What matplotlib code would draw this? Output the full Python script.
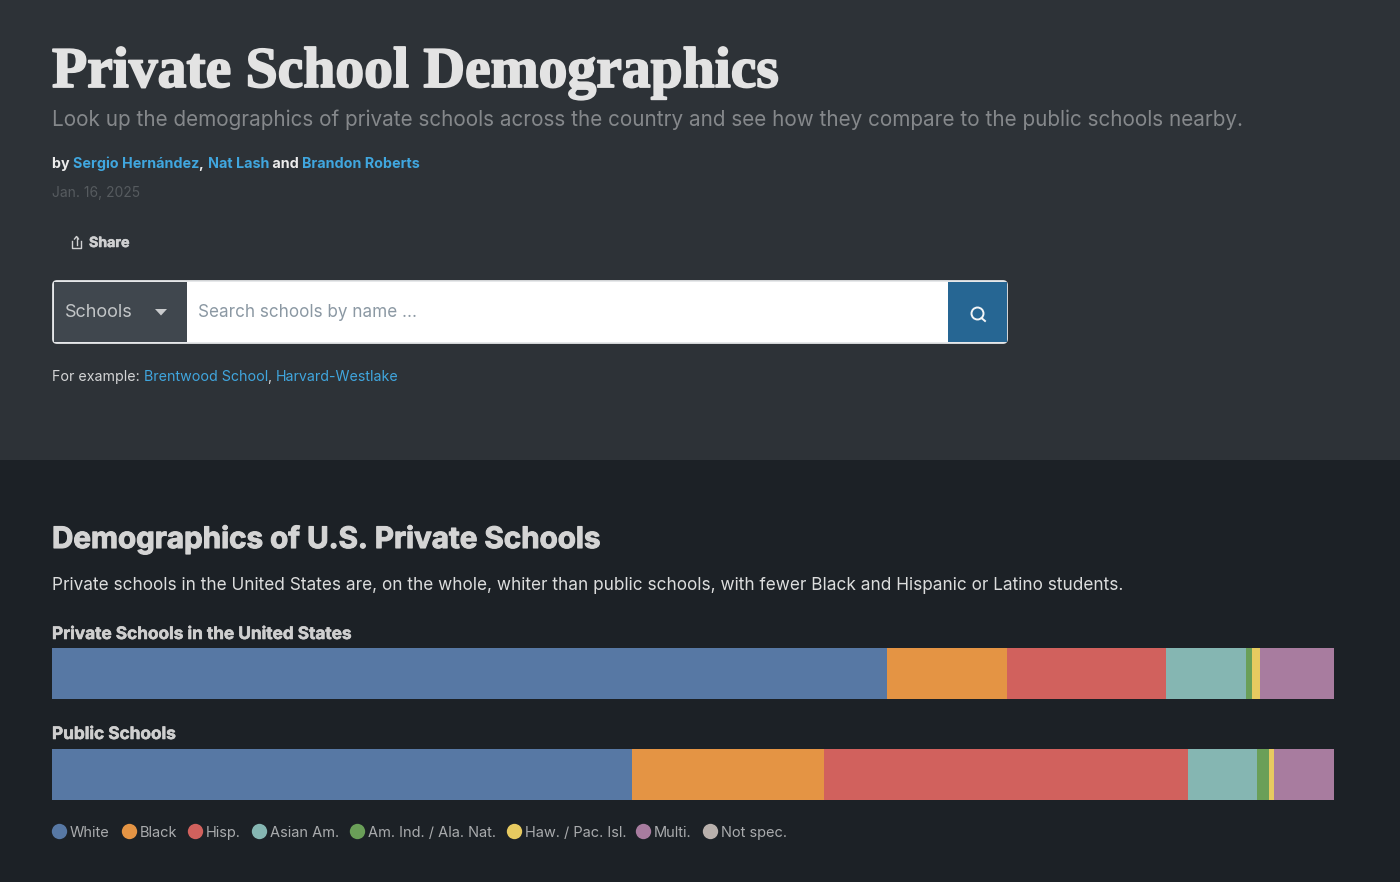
import matplotlib
matplotlib.use("Agg")
import matplotlib.pyplot as plt
import matplotlib.patheffects as pe
from matplotlib.font_manager import FontProperties
from matplotlib.patches import FancyBboxPatch, Rectangle, Circle, Polygon

# data
groups = ["Private Schools in the United States", "Public Schools"]
races = ["White", "Black", "Hisp.", "Asian Am.", "Am. Ind. / Ala. Nat.", "Haw. / Pac. Isl.", "Multi.", "Not spec."]
colors = ["#5778a4", "#e49444", "#d1615d", "#85b6b2", "#6a9f58", "#e7ca60", "#a87c9f", "#b8b0ac"]
private_vals = [65.1, 9.4, 12.4, 6.2, 0.5, 0.6, 5.8, 0.0]
public_vals = [45.25, 15.0, 28.35, 5.4, 0.9, 0.4, 4.7, 0.0]
legend_dot_x = [59, 129, 195, 259, 357, 514, 643, 710]

plt.rcParams["font.family"] = ["Inter", "DejaVu Sans"]
BLUE = "#40a6de"

fig = plt.figure(figsize=(14, 8.82), dpi=100, facecolor="#1c2126")

# page axes in pixels, y goes down
page = fig.add_axes([0, 0, 1, 1])
page.set_xlim(0, 1400)
page.set_ylim(882, 0)
page.axis("off")
page.add_patch(Rectangle((0, 0), 1400, 460, color="#2d3237", lw=0))


def heavy(t, w):
    # fake a heavier weight than the installed fonts have
    t.set_path_effects([pe.withStroke(linewidth=w, foreground=t.get_color())])


def run(x, y, parts, size, weight="normal"):
    # puts text pieces one after the other, using the width of everything so far
    so_far = ""
    r = fig.canvas.get_renderer()
    font = FontProperties(family="Inter", size=size, weight=weight)
    for s, c in parts:
        w = r.get_text_width_height_descent(so_far, font, False)[0] if so_far else 0
        page.text(x + w, y, s, color=c, fontsize=size, fontweight=weight, va="baseline")
        so_far += s


t = page.text(52, 87, "Private School Demographics", color="#e3e3e3", fontsize=41.5,
              fontweight="bold", family=["Liberation Serif"], va="baseline")
heavy(t, 1.3)
page.text(52, 125.5, "Look up the demographics of private schools across the country and see how they compare to the public schools nearby.",
          color="#85888b", fontsize=14.9, va="baseline")
run(52, 168, [("by ", "#ececec"), ("Sergio Hernández", BLUE), (", ", "#ececec"), ("Nat Lash", BLUE),
              (" and ", "#ececec"), ("Brandon Roberts", BLUE)], 10.3, "bold")
page.text(52, 197, "Jan. 16, 2025", color="#565b5f", fontsize=9.95, va="baseline")

# share button
page.plot([72, 72, 81, 81], [241, 248, 248, 241], color="#cfd0d1", lw=1)
page.plot([76.5, 76.5], [237, 244.5], color="#cfd0d1", lw=1)
page.plot([74.5, 76.5, 78.5], [239, 236.5, 239], color="#cfd0d1", lw=1)
t = page.text(89, 247, "Share", color="#cfd0d1", fontsize=10.2, fontweight="bold", va="baseline")
heavy(t, 0.4)

# search box
page.add_patch(FancyBboxPatch((53, 281), 954, 62, boxstyle="round,pad=0,rounding_size=4",
                              fc="#ffffff", ec="#e4e6e8", lw=1.3, zorder=2))
page.add_patch(Rectangle((54, 282), 132.5, 60, fc="#40474e", lw=0, zorder=3))
page.add_patch(Rectangle((948, 282), 58.5, 60, fc="#266693", lw=0, zorder=3))
page.text(65, 317, "Schools", color="#c2c5c7", fontsize=13.0, va="baseline", zorder=4)
page.add_patch(Polygon([[155, 309], [167, 309], [161, 315.5]], fc="#c9cbcd", lw=0, zorder=4))
page.text(198.5, 317, "Search schools by name ...", color="#8b98a3", fontsize=12.3, va="baseline", zorder=4)
page.add_patch(Circle((977.5, 313.5), 6, fc="none", ec="#f2f5f7", lw=1.4, zorder=4))
page.plot([981.5, 985], [318, 321], color="#f2f5f7", lw=1.4, zorder=4)

run(52, 381, [("For example: ", "#d4d5d6"), ("Brentwood School", BLUE), (", ", "#d4d5d6"), ("Harvard-Westlake", BLUE)], 10.22)

# lower section
t = page.text(52, 548, "Demographics of U.S. Private Schools", color="#d4d4d4", fontsize=21.3,
              fontweight="bold", va="baseline")
heavy(t, 0.8)
page.text(52, 589.5, "Private schools in the United States are, on the whole, whiter than public schools, with fewer Black and Hispanic or Latino students.",
          color="#dcdddd", fontsize=12.39, va="baseline")
t = page.text(52, 639, groups[0], color="#cfcfcf", fontsize=12.4, fontweight="bold", va="baseline")
heavy(t, 0.4)
t = page.text(52, 739, groups[1], color="#cfcfcf", fontsize=12.4, fontweight="bold", va="baseline")
heavy(t, 0.4)

# bars
ax = fig.add_axes([52 / 1400, 1 - 800 / 882, 1282 / 1400, 152 / 882])
ax.set_xlim(0, 100)
ax.set_ylim(1.256, -0.256)
ax.axis("off")
left = [0, 0]
for i in range(len(races)):
    ax.barh([0, 1], [private_vals[i], public_vals[i]], left=left, height=0.51, color=colors[i], lw=0)
    left = [left[0] + private_vals[i], left[1] + public_vals[i]]

# legend
for i in range(len(races)):
    page.scatter(legend_dot_x[i], 830.5, s=122, color=colors[i], lw=0)
    page.text(legend_dot_x[i] + 11, 837, races[i], color="#a9abad", fontsize=10.5, va="baseline")

fig.savefig("out.png", dpi=100, facecolor=fig.get_facecolor())
